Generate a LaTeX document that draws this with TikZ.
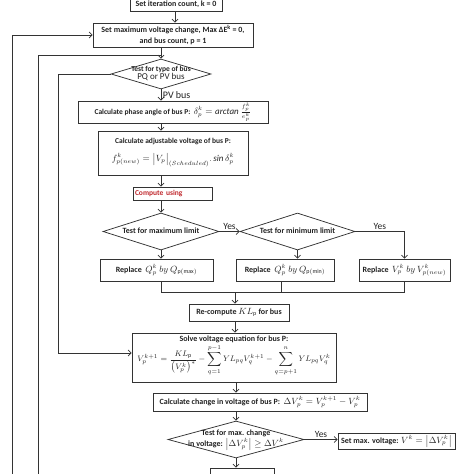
\documentclass[tikz,border=0pt]{standalone}
\usepackage{fontspec}
\setmainfont{Carlito}
\usetikzlibrary{arrows.meta,shapes.geometric}
\newcommand{\dtext}[1]{\makebox[0pt]{\raisebox{-1.8pt}[0pt][0pt]{\begin{tabular}{@{}c@{}}#1\end{tabular}}}}
\newcommand{\mth}[1]{{\fontsize{9}{10}\selectfont$#1$}}
\definecolor{ln}{HTML}{333333}
\definecolor{tx}{HTML}{222222}
\definecolor{rd}{HTML}{C0282D}
\begin{document}
\begin{tikzpicture}[x=1pt,y=-1pt,
  line width=0.75pt,
  every node/.style={font=\fontsize{8}{9.5}\selectfont\bfseries, text=tx},
  box/.style={draw=ln, rectangle, inner sep=0pt, align=center},
  dia/.style={draw=ln, diamond, inner sep=0pt},
  arr/.style={draw=ln, -{Straight Barb[length=3pt,width=6pt]}},
  con/.style={draw=ln},
  lbl/.style={font=\fontsize{9.5}{10}\selectfont, inner sep=1.5pt}]
\useasboundingbox (0,0) rectangle (474,474);
\clip (0,0) rectangle (474,474);
% boxes
\node[box, minimum width=92, minimum height=13] (b0) at (176,4.5) {Set iteration count, k = 0};
\node[box, minimum width=160, minimum height=24] (b1) at (173,35) {Set maximum voltage change, Max ΔE\textsuperscript{k} = 0,\\[1.5pt] and bus count, p = 1};
\node[dia, minimum width=100, minimum height=30] (d1) at (161,74) {\dtext{\fontsize{7.5}{8.5}\selectfont Test for type of bus\\[-1pt] {\normalfont\fontsize{9}{9}\selectfont PQ or PV bus}}};
\node[box, minimum width=190, minimum height=22] (b2) at (173,112) {\fontsize{7.5}{9}\selectfont Calculate phase angle of bus P:~ \mth{\delta_p^k = \mathit{arctan}\,\frac{f_p^k}{e_p^k}}};
\node[box, minimum width=150, minimum height=44] (b3) at (173,153) {\fontsize{7.5}{9}\selectfont Calculate adjustable voltage of bus P:\\[7pt] \mth{f^k_{p(new)} = \bigl|V_p\bigr|_{(Scheduled)}.\,\mathit{sin}\,\delta_p^k}};
\node[box, minimum width=79, minimum height=13, text width=75pt, align=left, text=rd] (b4) at (172.5,193.5) {\fontsize{7.5}{9}\selectfont Compute using};
\node[dia, minimum width=116, minimum height=37] (d2) at (161,231.5) {\dtext{Test for maximum limit}};
\node[dia, minimum width=115, minimum height=37] (d3) at (297.5,231.5) {\dtext{Test for minimum limit}};
\node[box, minimum width=113, minimum height=22] (b6) at (156.5,270) {Replace~ \mth{Q_p^k\ by\ Q_{\mathrm{p(max)}}}};
\node[box, minimum width=98, minimum height=22] (b7) at (285,270) {Replace~ \mth{Q_p^k\ by\ Q_{\mathrm{p(min)}}}};
\node[box, minimum width=91, minimum height=22] (b8) at (404.5,270) {Replace~ \mth{V_p^k\ by\ V^k_{p(new)}}};
\node[box, minimum width=100, minimum height=17] (b9) at (239,312.5) {Re-compute \mth{KL_{\mathrm{p}}} for bus};
\node[box, minimum width=204, minimum height=49] (b10) at (234,357.5) {};
\node[anchor=north, inner sep=0pt] (b10t) at ([yshift=-3pt]b10.north) {Solve voltage equation for bus P:};
\node[anchor=north, inner sep=0pt] (b10f) at ([yshift=-1pt]b10t.south) {\fontsize{8}{9}\selectfont$\displaystyle V_p^{k+1} = \frac{KL_{\mathrm{p}}}{\left(V_p^k\right)^{*}} - \sum_{q=1}^{p-1} YL_{pq}V_q^{k+1} - \sum_{q=p+1}^{n} YL_{pq}V_q^{k}$};
\node[box, minimum width=214, minimum height=18] (b11) at (260,402) {Calculate change in voltage of bus P:~ \mth{\Delta V_p^k = V_p^{k+1} - V_p^k}};
\node[dia, minimum width=136, minimum height=37] (d4) at (236,439.5) {\dtext{Test for max. change\\ in voltage: \mth{\bigl|\Delta V_p^k\bigr| \geq \Delta V^k}}};
\node[box, minimum width=117, minimum height=16] (b12) at (396.5,441) {Set max. voltage: \mth{V^k = \bigl|\Delta V_p^k\bigr|}};
\node[box, minimum width=64, minimum height=24] (b13) at (242,480) {};
% helper coordinates
\coordinate (o1) at (12,490);
\coordinate (o2) at (38,490);
\coordinate (j1) at (161,55);
\coordinate (l3) at (58,0);
\coordinate (mrg) at (235,292);
% connectors
\draw[arr] (b0.south -| 175,0) -- (b1.north -| 175,0);
\draw[arr] (b1.south -| d1.north) -- (d1.north);
\draw[arr] (o1) |- (b1.west);
\draw[con] (o2) |- (j1);
\draw[arr] (d1.west) -- (d1.west -| l3) |- ([yshift=4.5pt]b10.west);
\draw[arr] (d1.south) -- (d1.south |- b2.north) node[lbl, right, midway, font=\fontsize{10}{10}\selectfont] {PV bus};
\draw[arr] (b2.south -| d2.north) -- (b3.north -| d2.north);
\draw[arr] (b3.south -| d2.north) -- (b4.north -| d2.north);
\draw[arr] (b4.south -| d2.north) -- (d2.north);
\draw[arr] (d2.east) -- (d3.west) node[lbl, midway, above] {Yes};
\draw[arr] (d3.east) -| (b8.north) node[lbl, pos=0.25, above] {Yes};
\draw[arr] (d2.south) -- (b6.north -| d2.south);
\draw[arr] (d3.south) -- (b7.north -| d3.south);
\draw[con] (b6.south -| d2.south) -- (d2.south |- mrg) -- (b8.south |- mrg) -- (b8.south);
\draw[con] (b7.south -| 281,0) -- (mrg -| 281,0);
\draw[arr] (mrg) -- (mrg |- b9.north);
\draw[arr] (b9.south -| mrg) -- (b10.north -| mrg);
\draw[arr] (b10.south -| d4.north) -- (b11.north -| d4.north);
\draw[arr] (b11.south -| d4.north) -- (d4.north);
\draw[arr] (d4.east) -- (d4.east -| b12.west) node[lbl, midway, above] {Yes};
\draw[arr] (d4.south) -- (d4.south |- b13.north);
\end{tikzpicture}
\end{document}
